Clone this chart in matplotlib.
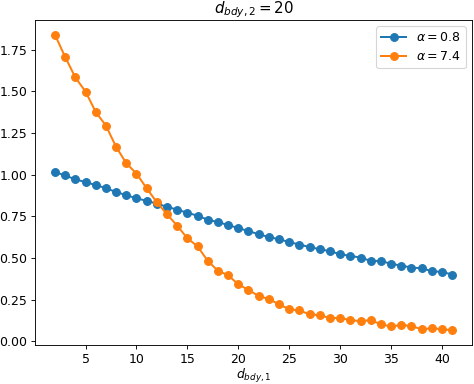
import numpy as np
import matplotlib
matplotlib.use("Agg")
import matplotlib.pyplot as plt

d1 = np.arange(2, 42)
blue = [1.016, 0.996, 0.972, 0.956, 0.938, 0.920, 0.896, 0.878, 0.858, 0.844,
        0.826, 0.808, 0.790, 0.772, 0.754, 0.730, 0.716, 0.698, 0.680, 0.662,
        0.643, 0.626, 0.613, 0.596, 0.581, 0.566, 0.553, 0.541, 0.523, 0.513,
        0.503, 0.483, 0.483, 0.465, 0.455, 0.443, 0.439, 0.421, 0.417, 0.401]
orange = [1.840, 1.707, 1.584, 1.499, 1.377, 1.295, 1.168, 1.069, 1.007, 0.919,
          0.835, 0.763, 0.694, 0.619, 0.570, 0.483, 0.424, 0.397, 0.342, 0.309,
          0.272, 0.255, 0.222, 0.193, 0.186, 0.162, 0.157, 0.140, 0.141, 0.127,
          0.122, 0.127, 0.103, 0.090, 0.098, 0.093, 0.072, 0.080, 0.072, 0.068]
labels = [r"$\alpha = 0.8$", r"$\alpha = 7.4$"]

plt.rcParams["font.size"] = 11.25

fig, ax = plt.subplots(figsize=(474 / 80, 384 / 80), dpi=80)
fig.subplots_adjust(left=0.074, right=0.996, top=0.948, bottom=0.102)
ax.plot(d1, blue, marker="o", markersize=7, linewidth=1.8, label=labels[0])
ax.plot(d1, orange, marker="o", markersize=7, linewidth=1.8, label=labels[1])
ax.set_title(r"$d_{bdy,2} = 20$")
ax.set_xlabel(r"$d_{bdy,1}$", labelpad=1.5)
ax.legend(loc="upper right")
plt.savefig("out.png", dpi=80)
